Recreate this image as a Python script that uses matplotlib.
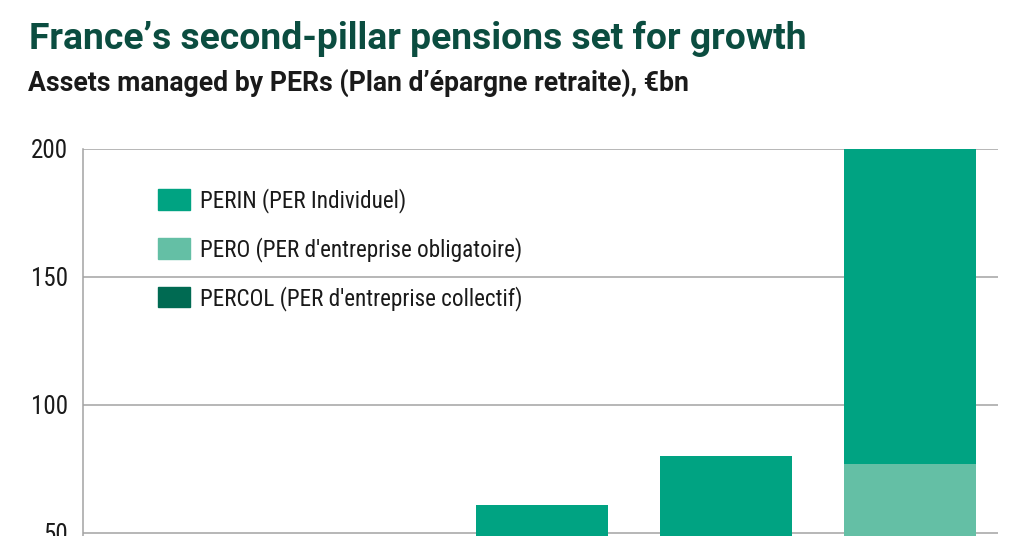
import matplotlib.pyplot as plt
from matplotlib.patches import Patch

# data (bars 1-2 and lower stacks sit below the visible crop; estimated)
years = ['2020', '2021', '2022', '2023', '2030']
percol = [5, 12, 18, 22, 40]
pero = [3, 6, 8, 10, 37]
perin = [10, 22, 35, 48, 123]

labels = ['PERIN (PER Individuel)',
          'PERO (PER d\'entreprise obligatoire)',
          'PERCOL (PER d\'entreprise collectif)']
colors = {'perin': '#00a382', 'pero': '#64bfa5', 'percol': '#006a52'}

plt.rcParams['font.family'] = ['Roboto Condensed', 'DejaVu Sans']

fig = plt.figure(figsize=(10.24, 5.36), dpi=100)
# axes runs past the bottom edge: the picture is cropped around 48
ax = fig.add_axes([83 / 1024, 1 - 660.6 / 536, 915 / 1024, (660.6 - 149) / 536])

x = range(len(years))
w = 0.72
ax.bar(x, percol, width=w, color=colors['percol'])
ax.bar(x, pero, width=w, bottom=percol, color=colors['pero'])
bottom3 = [a + b for a, b in zip(percol, pero)]
ax.bar(x, perin, width=w, bottom=bottom3, color=colors['perin'])

ax.set_xlim(-0.5, 4.48)
ax.set_ylim(0, 200)
ax.set_yticks([0, 50, 100, 150, 200])
ax.set_xticks([])
ax.yaxis.grid(True, color='#a3a3a3', linewidth=1.1)
ax.set_axisbelow(True)
for s in ['top', 'right', 'bottom']:
    ax.spines[s].set_visible(False)
ax.spines['left'].set_color('#a3a3a3')
ax.spines['left'].set_linewidth(1.1)
ax.tick_params(axis='y', length=0, pad=11, labelsize=18, labelcolor='#1a1a1a')

handles = [Patch(color=colors['perin']), Patch(color=colors['pero']),
           Patch(color=colors['percol'])]
fig.legend(handles, labels, loc='upper left',
           bbox_to_anchor=(158 / 1024, 1 - 188 / 536),
           frameon=False, fontsize=16.7, borderpad=0, borderaxespad=0,
           handlelength=1.38, handleheight=1.0, handletextpad=0.43,
           labelspacing=1.03, labelcolor='#1a1a1a')

fig.text(29 / 1024, 1 - 49 / 536, 'France\u2019s second-pillar pensions set for growth',
         fontsize=26.8, fontweight='bold', color='#0b4d40', va='baseline',
         family=['Roboto', 'DejaVu Sans'])
fig.text(28 / 1024, 1 - 91 / 536, 'Assets managed by PERs (Plan d\u2019\u00e9pargne retraite), \u20acbn',
         fontsize=19.2, fontweight='bold', color='#1a1a1a', va='baseline',
         family=['Roboto', 'DejaVu Sans'])

fig.savefig('out.png', dpi=100)
